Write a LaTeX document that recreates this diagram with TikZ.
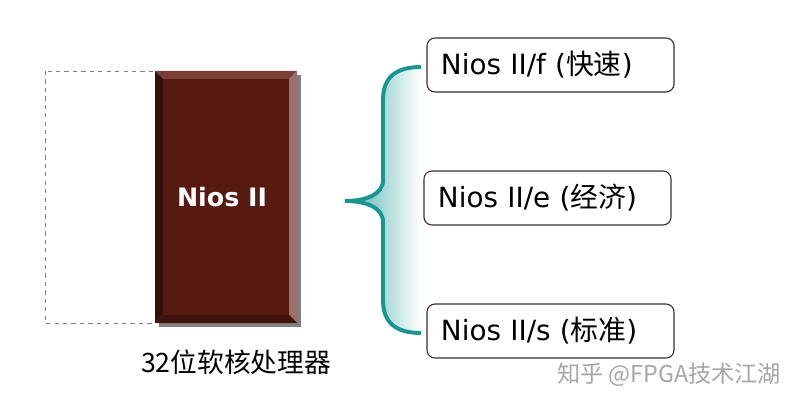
\documentclass[tikz,border=0pt]{standalone}
\usepackage{fontspec}
\setmainfont{DejaVu Sans}
\newfontfamily\cjk{Noto Sans CJK SC}
\definecolor{niosface}{RGB}{86,26,16}
\definecolor{bevtop}{RGB}{122,64,56}
\definecolor{bevright}{RGB}{154,110,106}
\definecolor{bevleft}{RGB}{53,16,10}
\definecolor{bevbottom}{RGB}{63,18,12}
\definecolor{braceteal}{RGB}{22,152,146}
\begin{document}
\begin{tikzpicture}[x=0.025cm,y=-0.025cm]
        \tikzstyle{ver}=[draw=black!80,line width=0.8pt,rounded corners=0.2cm,minimum height=1.35cm,text width=5.475cm,align=left,inner xsep=0.35cm,font=\fontsize{19.8}{23}\selectfont]
        \tikzstyle{core}=[fill=niosface,minimum width=3.15cm,minimum height=5.9cm,inner sep=0pt,text=white,font=\fontsize{18}{21}\selectfont\bfseries]

      \useasboundingbox (0,0) rectangle (795,407);

      \begin{scope}
         % empty slot
         \draw[dashed,black!50] (45,71) rectangle (155,323);

         % processor block
         \fill[gray] (159,75) rectangle (301,327);
         \fill[bevtop]    (155,71)  -- (297,71)  -- (289,79)  -- (163,79)  -- cycle;
         \fill[bevright]  (297,71)  -- (297,323) -- (289,315) -- (289,79)  -- cycle;
         \fill[bevbottom] (155,323) -- (297,323) -- (289,315) -- (163,315) -- cycle;
         \fill[bevleft]   (155,71)  -- (163,79)  -- (163,315) -- (155,323) -- cycle;
         \node[core] (nios) at (226,197) {};
         \node[text=white,font=\fontsize{18}{21}\selectfont\bfseries] (niosname) at (222,197) {Nios II};

         \node (soft) at (236,362) {\fontsize{19}{22}\selectfont\cjk 32位软核处理器};

         % brace
         \shade[left color=braceteal!75,right color=white]
            (421,67) .. controls (395,67) and (383,78) .. (383,100)
            -- (383,180) .. controls (383,195) and (365,201) .. (345,201)
            .. controls (365,201) and (383,207) .. (383,222)
            -- (383,300) .. controls (383,322) and (395,333) .. (421,333)
            -- cycle;
         \draw[braceteal,line width=2.8pt]
            (421,67) .. controls (395,67) and (383,78) .. (383,100)
            -- (383,180) .. controls (383,195) and (365,201) .. (345,201)
            .. controls (365,201) and (383,207) .. (383,222)
            -- (383,300) .. controls (383,322) and (395,333) .. (421,333);

         % versions
         \node[ver] (fast) at (550.5,65)  {Nios II/f ({\cjk 快速})};
         \node[ver] (econ) at (547.5,198) {Nios II/e ({\cjk 经济})};
         \node[ver] (std)  at (550.5,331) {Nios II/s ({\cjk 标准})};

         \node[text=black!35] (mark) at (669,375) {\fontsize{16.5}{19}\selectfont\cjk 知乎 @FPGA技术江湖};
      \end{scope}
    \end{tikzpicture}
\end{document}
